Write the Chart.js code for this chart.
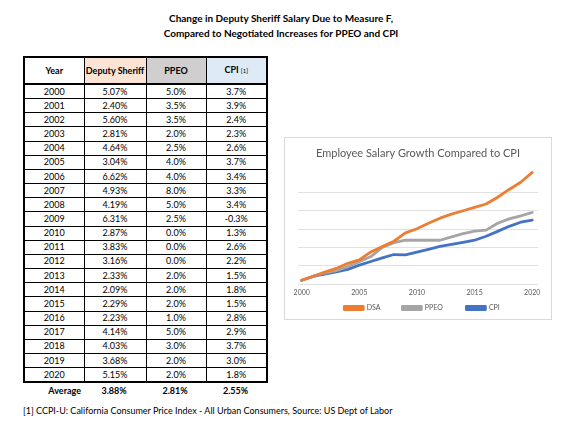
<!DOCTYPE html>
<html>
<head>
<meta charset="utf-8">
<script src="https://cdn.jsdelivr.net/npm/chart.js@4.4.1/dist/chart.umd.min.js"></script>
<style>
  html, body { margin: 0; padding: 0; background: #fff; }
  body { width: 570px; height: 429px; position: relative; overflow: hidden; font-family: Lato, "Open Sans", sans-serif; color: #000; }
  #pageTitle { position: absolute; left: 0; top: 11px; width: 562px; text-align: center; font-weight: bold; font-size: 10px; line-height: 15px; }
  table { border-collapse: collapse; table-layout: fixed; position: absolute; left: 23px; }
  #salaryTable { top: 56px; border: 2px solid #000; }
  #salaryTable td, #salaryTable th { border: 1px solid #000; text-align: center; font-size: 9px; padding: 0; height: 13.16px; line-height: 12px; }
  #salaryTable th { height: 25px; font-weight: bold; border-bottom: 2px solid #000; }
  #salaryTable th.dsa { background: #fbe4d5; }
  #salaryTable th.ppeo { background: #d0cece; }
  #salaryTable th.cpi { background: #deebf7; }
  #salaryTable th small { font-size: 6px; font-weight: normal; }
  #avgTable { top: 384px; }
  #avgTable td { text-align: center; font-weight: bold; font-size: 9px; padding: 0; height: 13px; }
  #avgTable td.lbl { text-align: right; padding-right: 2px; }
  #footnote { position: absolute; left: 23px; top: 405px; font-size: 9px; }
  #chartBox { position: absolute; left: 284px; top: 137px; width: 266px; height: 181px; border: 1px solid #d9d9d9; }
  #chartWrap { position: absolute; left: 284px; top: 137px; width: 268px; height: 188px; }
</style>
</head>
<body>
<div id="pageTitle">Change in Deputy Sheriff Salary Due to Measure F,<br>Compared to Negotiated Increases for PPEO and CPI</div>

<table id="salaryTable">
  <colgroup><col style="width:60px"><col style="width:62px"><col style="width:60px"><col style="width:61px"></colgroup>
  <thead>
    <tr><th>Year</th><th class="dsa">Deputy Sheriff</th><th class="ppeo">PPEO</th><th class="cpi">CPI <small>[1]</small></th></tr>
  </thead>
  <tbody id="tableBody"></tbody>
</table>

<table id="avgTable">
  <colgroup><col style="width:60px"><col style="width:62px"><col style="width:60px"><col style="width:61px"></colgroup>
  <tr id="avgRow"></tr>
</table>

<div id="footnote">[1] CCPI-U: California Consumer Price Index - All Urban Consumers, Source: US Dept of Labor</div>

<div id="chartBox"></div>
<div id="chartWrap"><canvas id="growthChart"></canvas></div>

<script>
// table values
const years = [2000, 2001, 2002, 2003, 2004, 2005, 2006, 2007, 2008, 2009, 2010,
               2011, 2012, 2013, 2014, 2015, 2016, 2017, 2018, 2019, 2020];
const sheriffPct = ['5.07%', '2.40%', '5.60%', '2.81%', '4.64%', '3.04%', '6.62%', '4.93%', '4.19%', '6.31%', '2.87%',
                    '3.83%', '3.16%', '2.33%', '2.09%', '2.29%', '2.23%', '4.14%', '4.03%', '3.68%', '5.15%'];
const ppeoPct = ['5.0%', '3.5%', '3.5%', '2.0%', '2.5%', '4.0%', '4.0%', '8.0%', '5.0%', '2.5%', '0.0%',
                 '0.0%', '0.0%', '2.0%', '2.0%', '2.0%', '1.0%', '5.0%', '3.0%', '2.0%', '2.0%'];
const cpiPct = ['3.7%', '3.9%', '2.4%', '2.3%', '2.6%', '3.7%', '3.4%', '3.3%', '3.4%', '-0.3%', '1.3%',
                '2.6%', '2.2%', '1.5%', '1.8%', '1.5%', '2.8%', '2.9%', '3.7%', '3.0%', '1.8%'];
const averages = ['Average', '3.88%', '2.81%', '2.55%'];

// chart values (unlabeled index)
const dsaGrowth = [1.041, 1.085, 1.13, 1.17, 1.226, 1.263, 1.35, 1.41, 1.467, 1.559, 1.604,
                   1.663, 1.719, 1.763, 1.8, 1.837, 1.874, 1.948, 2.033, 2.112, 2.219];
const ppeoGrowth = [1.041, 1.083, 1.12, 1.145, 1.19, 1.244, 1.3, 1.4, 1.452, 1.478, 1.478,
                    1.478, 1.478, 1.515, 1.55, 1.578, 1.589, 1.663, 1.712, 1.744, 1.781];
const cpiGrowth = [1.041, 1.082, 1.108, 1.133, 1.16, 1.206, 1.246, 1.285, 1.322, 1.319, 1.348,
                   1.378, 1.41, 1.432, 1.455, 1.478, 1.522, 1.575, 1.63, 1.675, 1.698];
const xTicks = [2000, 2005, 2010, 2015, 2020];
// legend labels get trailing blanks so the entries spread out like the original
const legendGap = [11, 12, 0];

let html = '';
for (let i = 0; i < years.length; i++) {
    html += `<tr><td>${years[i]}</td><td>${sheriffPct[i]}</td><td>${ppeoPct[i]}</td><td>${cpiPct[i]}</td></tr>`;
}
document.getElementById('tableBody').innerHTML = html;
document.getElementById('avgRow').innerHTML = averages.map((a, i) =>
    `<td class="${i === 0 ? 'lbl' : ''}">${a}</td>`).join('');

const toPoints = arr => arr.map((v, i) => ({ x: years[i], y: v }));

const ctx = document.getElementById('growthChart').getContext('2d');
const growthChart = new Chart(ctx, {
    type: 'line',
    data: {
        datasets: [{
            label: 'DSA',
            data: toPoints(dsaGrowth),
            borderColor: '#ed7d31',
            backgroundColor: '#ed7d31'
        }, {
            label: 'PPEO',
            data: toPoints(ppeoGrowth),
            borderColor: '#a5a5a5',
            backgroundColor: '#a5a5a5'
        }, {
            label: 'CPI',
            data: toPoints(cpiGrowth),
            borderColor: '#4472c4',
            backgroundColor: '#4472c4'
        }]
    },
    options: {
        responsive: true,
        maintainAspectRatio: false,
        animation: false,
        layout: { padding: { left: 14, right: 6, top: 0, bottom: 3.5 } },
        elements: {
            line: { borderWidth: 2.8, tension: 0, borderJoinStyle: 'round', borderCapStyle: 'round' },
            point: { radius: 0 }
        },
        scales: {
            x: {
                type: 'linear',
                min: 1999.68,
                max: 2020.5,
                afterBuildTicks: axis => { axis.ticks = xTicks.map(v => ({ value: v })); },
                grid: { display: false, drawTicks: false },
                border: { display: false },
                ticks: {
                    padding: 5,
                    maxRotation: 0,
                    color: '#595959',
                    font: { family: 'Lato', size: 7 },
                    callback: v => String(v)
                }
            },
            y: {
                position: 'right',
                min: 1.0,
                max: 2.3,
                afterFit: axis => { axis.width = 8; },
                ticks: { display: false, stepSize: 0.2 },
                border: { display: false },
                grid: {
                    drawTicks: false,
                    lineWidth: 0.8,
                    color: c => (c.tick && c.tick.value > 2.25) ? 'rgba(0,0,0,0)' : '#d9d9d9'
                }
            }
        },
        plugins: {
            title: {
                display: true,
                fullSize: false,
                text: 'Employee Salary Growth Compared to CPI',
                color: '#595959',
                font: { family: 'Lato', size: 11, weight: 'normal' },
                padding: { top: 9.4, bottom: 5.4 }
            },
            legend: {
                position: 'bottom',
                labels: {
                    boxWidth: 19,
                    boxHeight: 3,
                    padding: 2.1,
                    color: '#595959',
                    font: { family: 'Lato', size: 7 },
                    generateLabels: chart => Chart.defaults.plugins.legend.labels.generateLabels(chart)
                        .map((item, i) => Object.assign(item, { text: item.text + ' '.repeat(legendGap[i]) }))
                }
            },
            tooltip: { enabled: false }
        }
    }
});
</script>
</body>
</html>
